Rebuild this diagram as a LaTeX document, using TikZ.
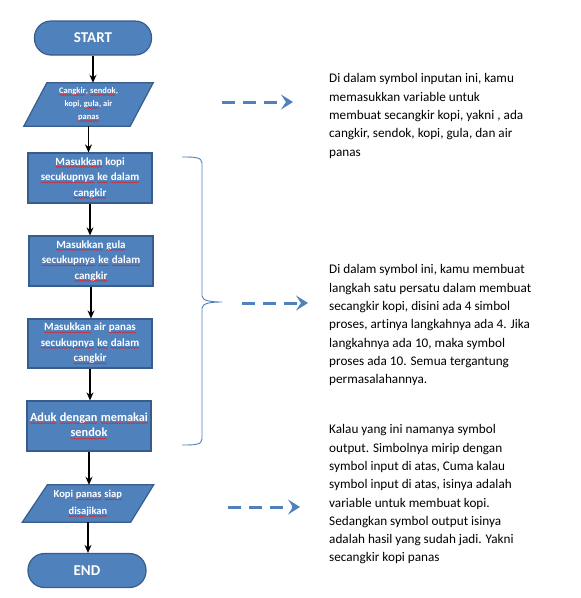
\documentclass[tikz,border=0pt]{standalone}
\usepackage{fontspec}
\setmainfont{Carlito}[Ligatures=NoCommon]
\usetikzlibrary{arrows.meta,decorations.pathmorphing}
\definecolor{fillb}{HTML}{4F81BD}
\definecolor{drawb}{HTML}{385D8A}
\definecolor{wavered}{HTML}{E02020}
\tikzset{
  sqword/.style={shape=rectangle, draw=none, fill=none, minimum width=0pt, minimum height=0pt,
    inner sep=0pt, outer sep=0pt, anchor=base, sharp corners, align=left},
  sqwave/.style={draw=wavered, fill=none, sharp corners, line width=0.5pt, decorate,
    decoration={snake, amplitude=0.5pt, segment length=2.4pt}},
  terminal/.style={draw=drawb, fill=fillb, line width=1.2pt, rounded corners=16.5pt, text=white,
    font=\fontsize{15}{18}\selectfont\bfseries, minimum height=34pt, inner sep=0pt},
  procbox/.style={draw=drawb, fill=fillb, line width=1.2pt, text=white, align=center,
    font=\fontsize{11}{15.5}\selectfont\bfseries, minimum width=124pt, minimum height=50pt, inner sep=0pt},
  iobox/.style={text=white, align=center, inner sep=0pt},
  para/.style={draw=drawb, fill=fillb, line width=1.2pt},
  arr/.style={-{Stealth[length=8pt,width=7pt]}, line width=1.6pt, black},
  darr/.style={draw=fillb, line width=3pt, dash pattern=on 12.7pt off 8.5pt,
    -{Stealth[length=12pt,width=15pt,inset=5pt]}},
  brace/.style={draw=fillb, line width=0.9pt},
  desc/.style={align=left, inner sep=0pt, anchor=north west, text=black,
    font=\fontsize{13.2}{18.3}\selectfont}
}
\newcommand\sq[1]{\tikz[baseline=(w.base)]{\node[sqword] (w) {#1};
  \path[sqwave] ([yshift=-1.8pt]w.base west) -- ([yshift=-1.8pt]w.base east);}}
\begin{document}
\begin{tikzpicture}[x=1pt,y=-1pt]
\useasboundingbox[fill=white] (0,0) rectangle (581,598);

% flowchart nodes
\node[terminal, minimum width=117pt] (start) at (93,38) {START};
\node[iobox, minimum width=129pt, minimum height=43pt] (in) at (88.5,104.5) {};
\draw[para] ([xshift=23pt]in.north west) -- (in.north east) -- ([xshift=-23pt]in.south east) -- (in.south west) -- cycle;
\node[iobox, font=\fontsize{8.5}{13}\selectfont\bfseries] (intext) at (in) {\sq{Cangkir}, \sq{sendok},\\kopi, \sq{gula}, air\\\sq{panas}};
\node[procbox] (p1) at (90,178) {\sq{Masukkan} kopi\\\sq{secukupnya} \sq{ke} \sq{dalam}\\\sq{cangkir}};
\node[procbox] (p2) at (91,261) {\sq{Masukkan} \sq{gula}\\\sq{secukupnya} \sq{ke} \sq{dalam}\\\sq{cangkir}};
\node[procbox, minimum height=49pt] (p3) at (90,343.5) {\sq{Masukkan} air \sq{panas}\\\sq{secukupnya} \sq{ke} \sq{dalam}\\\sq{cangkir}};
\node[procbox, font=\fontsize{12.3}{15.5}\selectfont\bfseries] (p4) at (89,426) {\sq{Aduk} \sq{dengan} \sq{memakai}\\\sq{sendok}};
\node[iobox, minimum width=131pt, minimum height=37pt] (out) at (88,503.5) {};
\draw[para] ([xshift=25pt]out.north west) -- (out.north east) -- ([xshift=-23pt]out.south east) -- (out.south west) -- cycle;
\node[iobox, font=\fontsize{10.5}{16.7}\selectfont\bfseries] (outtext) at (out) {Kopi \sq{panas} \sq{siap}\\\sq{disajikan}};
\node[terminal, minimum width=118pt] (end) at (87,570.5) {END};

% connectors
\draw[arr] (start) -- (start |- in.north);
\draw[arr] (in) -- (in |- p1.north);
\draw[arr] (p1) -- (p1 |- p2.north);
\draw[arr] (p2) -- (p2 |- p3.north);
\draw[arr] (p3) -- (p3 |- p4.north);
\draw[arr] (p4) -- (p4 |- out.north);
\draw[arr] (out) -- (out |- end.north);

% brace
\draw[brace] (182,157) .. controls (194,157) and (202,157) .. (202,163)
  -- (202,296) .. controls (202,301) and (212,302) .. (222,302)
  .. controls (212,302) and (202,303) .. (202,308)
  -- (202,439) .. controls (202,445) and (194,445) .. (182,445);

% dashed arrows
\coordinate (d1a) at (222,102); \coordinate (d1b) at (293,102);
\coordinate (d2a) at (242,303); \coordinate (d2b) at (308,303);
\coordinate (d3a) at (228,507); \coordinate (d3b) at (300,507);
\draw[darr] (d1a) -- (d1b);
\draw[darr] (d2a) -- (d2b);
\draw[darr] (d3a) -- (d3b);

% descriptions
\node[desc] (t1) at (329,73.5) {Di dalam symbol inputan ini, kamu\\memasukkan variable untuk\\membuat secangkir kopi, yakni , ada\\cangkir, sendok, kopi, gula, dan air\\panas};
\node[desc] (t2) at (329,264.5) {Di dalam symbol ini, kamu membuat\\langkah satu persatu dalam membuat\\secangkir kopi, disini ada 4 simbol\\proses, artinya langkahnya ada 4. Jika\\langkahnya ada 10, maka symbol\\proses ada 10. Semua tergantung\\permasalahannya.};
\node[desc] (t3) at (329,424.5) {Kalau yang ini namanya symbol\\output. Simbolnya mirip dengan\\symbol input di atas, Cuma kalau\\symbol input di atas, isinya adalah\\variable untuk membuat kopi.\\Sedangkan symbol output isinya\\adalah hasil yang sudah jadi. Yakni\\secangkir kopi panas};
\end{tikzpicture}
\end{document}
